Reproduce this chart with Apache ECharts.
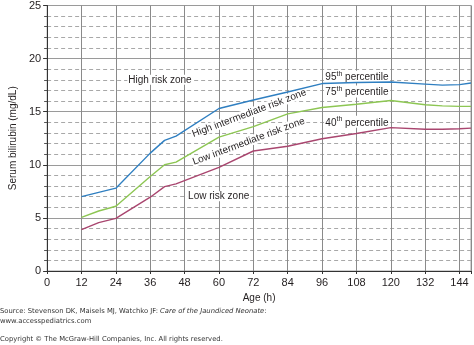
<!DOCTYPE html>
<html>
<head>
<meta charset="utf-8">
<script src="https://cdn.jsdelivr.net/npm/echarts@6/dist/echarts.min.js"></script>
<style>
html,body{margin:0;padding:0;background:#fff;}
#c{width:474px;height:345px;}
</style>
</head>
<body>
<div id="c"></div>
<script>
// ---- data (hours of age vs serum bilirubin, mg/dL) ----
const hours = [12, 18, 24, 36, 41, 45, 60, 72, 84, 96, 108, 120, 132, 138, 144, 148];
const p95 = [7.0, 7.4, 7.8, 11.1, 12.3, 12.7, 15.3, 16.1, 16.85, 17.65, 17.75, 17.8, 17.6, 17.5, 17.55, 17.7];
const p75 = [5.05, 5.65, 6.1, 8.9, 10.0, 10.25, 12.6, 13.6, 14.8, 15.4, 15.7, 16.05, 15.65, 15.55, 15.5, 15.5];
const p40 = [3.9, 4.55, 4.95, 6.95, 7.95, 8.2, 9.75, 11.3, 11.75, 12.45, 12.95, 13.5, 13.35, 13.35, 13.4, 13.45];
const xTicks = [0, 12, 24, 36, 48, 60, 72, 84, 96, 108, 120, 132, 144];
const yTicks = [0, 5, 10, 15, 20, 25];
const percentileNames = ['95', '75', '40'];
const zoneNames = ['High risk zone', 'High intermediate risk zone', 'Low intermediate risk zone', 'Low risk zone'];

function pairs(vals) { return hours.map((h, i) => [h, vals[i]]); }

const chart = echarts.init(document.getElementById('c'), null, {renderer: 'canvas'});
const FONT = 'Liberation Sans, Arial, Helvetica, sans-serif';
const TXT = '#231f20';

function lineSeries(name, vals, color) {
  return {
    name: name, type: 'line', data: pairs(vals), showSymbol: false, symbol: 'none',
    lineStyle: {color: color, width: 1.4}, z: 5, silent: true
  };
}

chart.setOption({
  animation: false,
  textStyle: {fontFamily: FONT},
  grid: {left: 35, right: 2, top: 5, bottom: 74, show: true, borderColor: '#a0a0a0', borderWidth: 1},
  xAxis: {
    type: 'value', min: 0, max: 148, interval: 12,
    name: 'Age (h)', nameLocation: 'middle', nameGap: 22,
    nameTextStyle: {fontSize: 10, color: TXT, fontFamily: FONT},
    axisLine: {show: true, lineStyle: {color: '#333', width: 1}},
    axisTick: {show: true, length: 3, lineStyle: {color: '#333'}},
    axisLabel: {fontSize: 11, color: TXT, margin: 6, fontFamily: FONT,
      formatter: v => (xTicks.indexOf(v) >= 0 ? String(v) : '')},
    splitLine: {show: true, lineStyle: {color: '#8a8a8a', width: 1}}
  },
  yAxis: {
    type: 'value', min: 0, max: 25, interval: 5,
    name: 'Serum bilirubin (mg/dL)', nameLocation: 'middle', nameGap: 25,
    nameTextStyle: {fontSize: 10, color: TXT, fontFamily: FONT},
    axisLine: {show: true, lineStyle: {color: '#333', width: 1}},
    axisTick: {show: true, length: 4, lineStyle: {color: '#333'}},
    minorTick: {show: true, splitNumber: 5, length: 3, lineStyle: {color: '#555'}},
    axisLabel: {fontSize: 11, color: TXT, margin: 6, fontFamily: FONT,
      formatter: v => (yTicks.indexOf(v) >= 0 ? String(v) : '')},
    splitLine: {show: true, lineStyle: {color: '#9a9a9a', width: 1}},
    minorSplitLine: {show: true, lineStyle: {color: '#a8a8a8', width: 1, type: [4, 3]}}
  },
  series: [
    lineSeries('95th percentile', p95, '#2f7fc1'),
    lineSeries('75th percentile', p75, '#8dc653'),
    lineSeries('40th percentile', p40, '#a9466f')
  ]
});

// ---- annotation placement (data coordinates) ----
const zoneAnchors = [[39.4, 18.0, 0], [70.6, 14.85, 20.5], [70.4, 12.2, 20.5], [59.9, 7.05, 0]];
const pctAnchors = [[96.8, 18.3], [96.8, 16.9], [96.8, 14.05]];

const graphics = [];
zoneNames.forEach((t, i) => {
  const a = zoneAnchors[i];
  const p = chart.convertToPixel({gridIndex: 0}, [a[0], a[1]]);
  graphics.push({
    type: 'text', x: p[0], y: p[1], rotation: a[2] * Math.PI / 180, z: 3,
    style: {text: t, fontSize: 10, fontFamily: FONT, fill: TXT, align: 'center', verticalAlign: 'middle',
      backgroundColor: '#fff', padding: [0, 1]}
  });
});
percentileNames.forEach((n, i) => {
  const a = pctAnchors[i];
  const p = chart.convertToPixel({gridIndex: 0}, [a[0], a[1]]);
  graphics.push({
    type: 'text', x: p[0], y: p[1], z: 3,
    style: {
      text: '{n|' + n + '}{s|th}{n| percentile}',
      align: 'left', verticalAlign: 'middle', backgroundColor: '#fff', padding: [0, 1],
      rich: {
        n: {fontSize: 10, fontFamily: FONT, fill: TXT, lineHeight: 12, verticalAlign: 'bottom'},
        s: {fontSize: 7, fontFamily: FONT, fill: TXT, lineHeight: 12, verticalAlign: 'top'}
      }
    }
  });
});
const SRC = 'DejaVu Sans, Verdana, sans-serif';
graphics.push({
  type: 'text', left: 0, top: 308, z: 10,
  style: {
    text: '{a|Source: Stevenson DK, Maisels MJ, Watchko JF: }{i|Care of the Jaundiced Neonate}{a|:}\n{a|www.accesspediatrics.com}',
    rich: {
      a: {fontSize: 6.8, fontFamily: SRC, fill: '#333', lineHeight: 9.5},
      i: {fontSize: 6.8, fontFamily: SRC, fontStyle: 'italic', fill: '#333', lineHeight: 9.5}
    }
  }
});
graphics.push({
  type: 'text', left: 0, top: 336, z: 10,
  style: {text: 'Copyright \u00a9 The McGraw-Hill Companies, Inc. All rights reserved.', fontSize: 6.8, fontFamily: SRC, fill: '#333'}
});
chart.setOption({graphic: graphics});
</script>
</body>
</html>
